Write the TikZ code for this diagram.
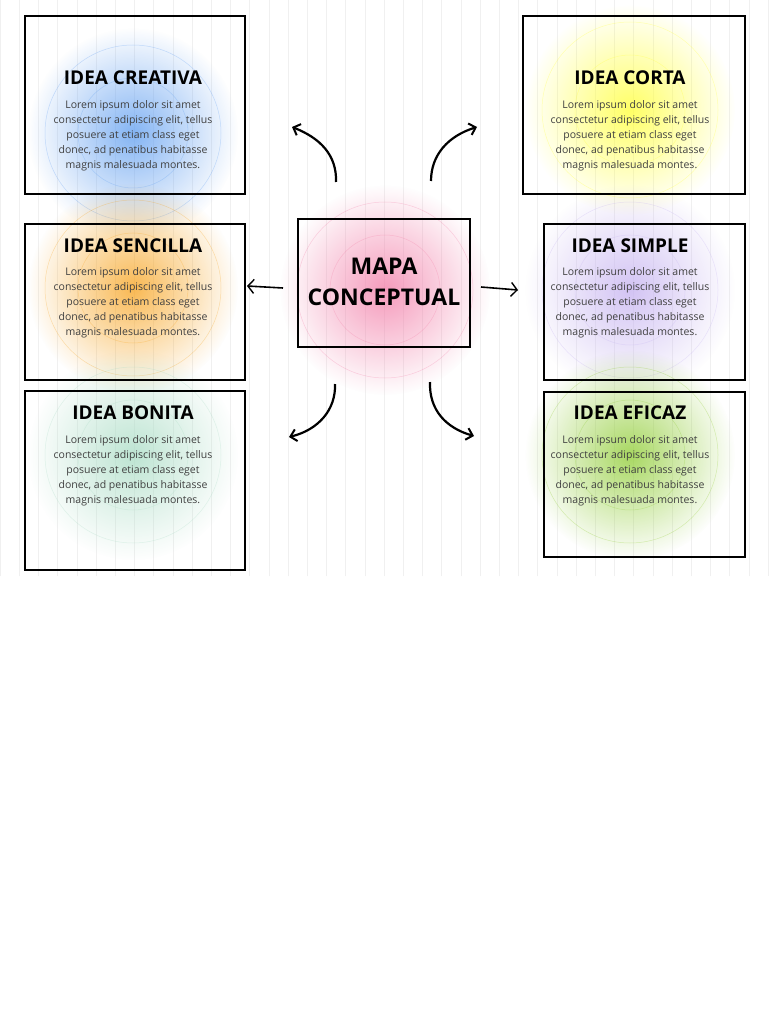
\documentclass[tikz,border=0pt]{standalone}
\usepackage{fontspec}
\setmainfont{Open Sans}
\usetikzlibrary{arrows.meta,fadings}
\tikzfading[name=blobfade, inner color=transparent!25, outer color=transparent!100]
\definecolor{cblue}{HTML}{5C9CF0}
\definecolor{corange}{HTML}{F7A21B}
\definecolor{cmint}{HTML}{A8DCC4}
\definecolor{cyellow}{HTML}{FFFF33}
\definecolor{cviolet}{HTML}{C4B0F0}
\definecolor{cgreen}{HTML}{8CCB2E}
\definecolor{cpink}{HTML}{F27AA6}
\tikzset{
  idea/.style={draw=black, line width=1.6pt},
  ttl/.style={font=\bfseries\fontsize{19}{22}\selectfont, text=black},
  body/.style={font=\fontsize{10.5}{15}\selectfont, text=black!75, align=center},
  arr/.style={line width=2.2pt, -{Straight Barb[length=6pt,width=12pt,line width=2pt]}},
  arrs/.style={line width=1.6pt, -{Straight Barb[length=6pt,width=14pt,line width=1.4pt]}},
}
\newcommand{\blob}[3]{%
  \fill[#3, path fading=blobfade] (#1,#2) circle (105);
  \draw[#3, line width=0.5pt, opacity=0.3] (#1,#2) circle (88);
  \draw[#3, line width=0.5pt, opacity=0.3] (#1,#2) circle (55);
}
\newcommand{\lorem}{Lorem ipsum dolor sit amet\\consectetur adipiscing elit, tellus\\posuere at etiam class eget\\donec, ad penatibus habitasse\\magnis malesuada montes.}
\begin{document}
\begin{tikzpicture}[x=1pt,y=-1pt]
\useasboundingbox (0,0) rectangle (768,1024);
\fill[white] (0,0) rectangle (768,1024);
\draw[black!6, line width=0.5pt] (0,0) grid[step=19.2] (768,576);
% blobs
\blob{133}{133}{cblue}
\blob{133}{288}{corange}
\blob{133}{455}{cmint}
\blob{630}{110}{cyellow}
\blob{630}{290}{cviolet}
\blob{630}{455}{cgreen}
\blob{385}{290}{cpink}
% boxes
\draw[idea] (25,16) rectangle (245,194);
\draw[idea] (25,224) rectangle (245,380);
\draw[idea] (25,391) rectangle (245,570);
\draw[idea] (523,16) rectangle (745,194);
\draw[idea] (544,224) rectangle (745,380);
\draw[idea] (544,392) rectangle (745,557);
\draw[idea] (298,219) rectangle (470,347);
% texts
\node[ttl] (t1) at (133,78) {IDEA CREATIVA};
\node[body] (b1) at (133,136) {\lorem};
\node[ttl] (t2) at (133,246) {IDEA SENCILLA};
\node[body] (b2) at (133,303) {\lorem};
\node[ttl] (t3) at (133,413) {IDEA BONITA};
\node[body] (b3) at (133,471) {\lorem};
\node[ttl] (t4) at (630,78) {IDEA CORTA};
\node[body] (b4) at (630,136) {\lorem};
\node[ttl] (t5) at (630,246) {IDEA SIMPLE};
\node[body] (b5) at (630,303) {\lorem};
\node[ttl] (t6) at (630,413) {IDEA EFICAZ};
\node[body] (b6) at (630,471) {\lorem};
\node[font=\bfseries\fontsize{23}{31}\selectfont, align=center] (c) at (384,282) {MAPA\\CONCEPTUAL};
% arrows
\coordinate (a1s) at (336,182); \coordinate (a1e) at (292,127);
\coordinate (a2s) at (431,181); \coordinate (a2e) at (477,127);
\coordinate (a3s) at (283,288); \coordinate (a3e) at (247,286);
\coordinate (a4s) at (481,287); \coordinate (a4e) at (518,290);
\coordinate (a5s) at (335,384); \coordinate (a5e) at (289,437);
\coordinate (a6s) at (430,382); \coordinate (a6e) at (474,436);
\draw[arr] (a1s) .. controls (337,155) and (320,138) .. (a1e);
\draw[arr] (a2s) .. controls (431,155) and (448,136) .. (a2e);
\draw[arrs] (a3s) -- (a3e);
\draw[arrs] (a4s) -- (a4e);
\draw[arr] (a5s) .. controls (336,410) and (318,430) .. (a5e);
\draw[arr] (a6s) .. controls (429,410) and (446,428) .. (a6e);
\end{tikzpicture}
\end{document}
